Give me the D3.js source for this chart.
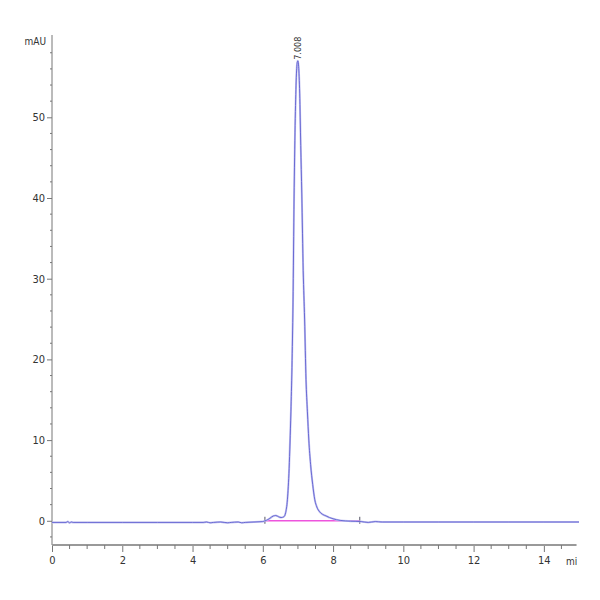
<!DOCTYPE html>
<html>
<head>
<meta charset="utf-8">
<script src="https://cdn.jsdelivr.net/npm/d3@7"></script>
<style>
  body { margin: 0; background: #fff; }
  text { font-family: "Liberation Sans Narrow", "DejaVu Sans Condensed", "Liberation Sans", sans-serif; fill: #333; }
</style>
</head>
<body>
<script>
// retention time (min) and signal (mAU)
const time = [0, 0.4, 0.45, 0.5, 0.55, 0.6, 1, 2, 3, 4, 4.3, 4.4, 4.5, 4.6, 4.8, 5.0, 5.1, 5.3, 5.4, 5.5, 6.0,
  6.06, 6.1, 6.2, 6.3, 6.37, 6.45, 6.52, 6.6, 6.65, 6.70, 6.75, 6.80, 6.83, 6.86, 6.89, 6.92, 6.95, 6.98, 7.00,
  7.02, 7.05, 7.08, 7.11, 7.15, 7.19, 7.23, 7.27, 7.31, 7.36, 7.42, 7.48, 7.54, 7.62, 7.70, 7.80, 7.90, 8.0,
  8.2, 8.5, 8.8, 9.0, 9.2, 9.4, 10, 11, 12, 13, 14, 15];
const mAU = [-0.2, -0.2, -0.1, -0.25, -0.15, -0.2, -0.2, -0.2, -0.2, -0.2, -0.2, -0.15, -0.25, -0.2, -0.15, -0.25, -0.2, -0.15, -0.25, -0.2, -0.1,
  0.0, 0.05, 0.3, 0.6, 0.65, 0.5, 0.4, 0.5, 1.0, 2.6, 6.5, 13.5, 19, 27, 40, 49, 54.5, 56.8, 57,
  56.3, 53, 46.5, 40.5, 31, 25, 17.5, 13.5, 10, 7, 4.5, 2.6, 1.7, 1.1, 0.8, 0.6, 0.4, 0.25,
  0.05, -0.05, -0.1, -0.2, -0.1, -0.15, -0.15, -0.15, -0.15, -0.15, -0.15, -0.15];

// integration baseline
const baseStart = 6.06, baseEnd = 8.76;
const peakLabel = "7.008";

const xTicks = [0, 2, 4, 6, 8, 10, 12, 14];
const yTicks = [0, 10, 20, 30, 40, 50];

const width = 600, height = 600;
const svg = d3.select("body").append("svg")
  .attr("width", width)
  .attr("height", height);

const x = d3.scaleLinear().domain([0, 15]).range([52, 579]);
const y = d3.scaleLinear().domain([-3, 60.2]).range([545, 35]);

const axisColor = "#777";

// y axis
const yAxis = d3.axisLeft(y).tickValues(yTicks).tickSize(5).tickPadding(2);
const gy = svg.append("g").attr("transform", `translate(${x(0)},0)`).call(yAxis);
gy.select(".domain").remove();
gy.selectAll(".tick line").attr("stroke", axisColor);
gy.selectAll(".tick text").attr("font-size", 11);
svg.append("line")
  .attr("x1", x(0)).attr("x2", x(0))
  .attr("y1", y(60.2)).attr("y2", y(-3))
  .attr("stroke", axisColor).attr("stroke-width", 1);
svg.append("g").selectAll("line")
  .data(d3.range(-2, 61, 2).filter(v => v % 10 !== 0))
  .join("line")
  .attr("x1", x(0) - 2).attr("x2", x(0))
  .attr("y1", d => y(d)).attr("y2", d => y(d))
  .attr("stroke", axisColor);

svg.append("text")
  .attr("x", 46).attr("y", y(59))
  .attr("text-anchor", "end")
  .attr("font-size", 10)
  .text("mAU");

// x axis
const xAxis = d3.axisBottom(x).tickValues(xTicks).tickSize(7).tickPadding(4).tickFormat(d3.format("d"));
const gx = svg.append("g").attr("transform", `translate(0,${y(-3)})`).call(xAxis);
gx.select(".domain").remove();
gx.selectAll(".tick line").attr("stroke", axisColor);
gx.selectAll(".tick text").attr("font-size", 11);
svg.append("line")
  .attr("x1", x(0)).attr("x2", x(14.93))
  .attr("y1", y(-3)).attr("y2", y(-3))
  .attr("stroke", "#999").attr("stroke-width", 2);
svg.append("g").selectAll("line")
  .data(d3.range(0.5, 15, 0.5).filter(v => v % 2 !== 0))
  .join("line")
  .attr("x1", d => x(d)).attr("x2", d => x(d))
  .attr("y1", y(-3)).attr("y2", y(-3) + 4)
  .attr("stroke", axisColor);

svg.append("defs").append("clipPath").attr("id", "clipUnit")
  .append("rect").attr("x", 560).attr("y", 540).attr("width", 17).attr("height", 40);
svg.append("text")
  .attr("clip-path", "url(#clipUnit)")
  .attr("x", 566).attr("y", y(-3) + 20)
  .attr("font-size", 10)
  .text("min");

// integration baseline
svg.append("line")
  .attr("x1", x(baseStart)).attr("x2", x(baseEnd))
  .attr("y1", y(0)).attr("y2", y(0))
  .attr("stroke", "#ee55dd").attr("stroke-width", 1.5);
[baseStart, baseEnd].forEach(t => {
  svg.append("line")
    .attr("x1", x(t)).attr("x2", x(t))
    .attr("y1", y(0) - 4).attr("y2", y(0) + 3)
    .attr("stroke", "#556");
});

// signal trace
const points = time.map((t, i) => [t, mAU[i]]);
const line = d3.line().x(d => x(d[0])).y(d => y(d[1])).curve(d3.curveMonotoneX);
svg.append("path")
  .datum(points)
  .attr("d", line)
  .attr("fill", "none")
  .attr("stroke", "#c4c4f0")
  .attr("stroke-width", 2);
svg.append("path")
  .datum(points)
  .attr("d", line)
  .attr("fill", "none")
  .attr("stroke", "#6060d0")
  .attr("stroke-width", 0.9);

// peak retention time label
const apex = points[d3.maxIndex(mAU)];
svg.append("text")
  .attr("transform", `translate(${x(apex[0]) + 3},${y(apex[1]) - 1}) rotate(-90)`)
  .attr("font-size", 9)
  .attr("fill", "#444")
  .text(peakLabel);
</script>
</body>
</html>
